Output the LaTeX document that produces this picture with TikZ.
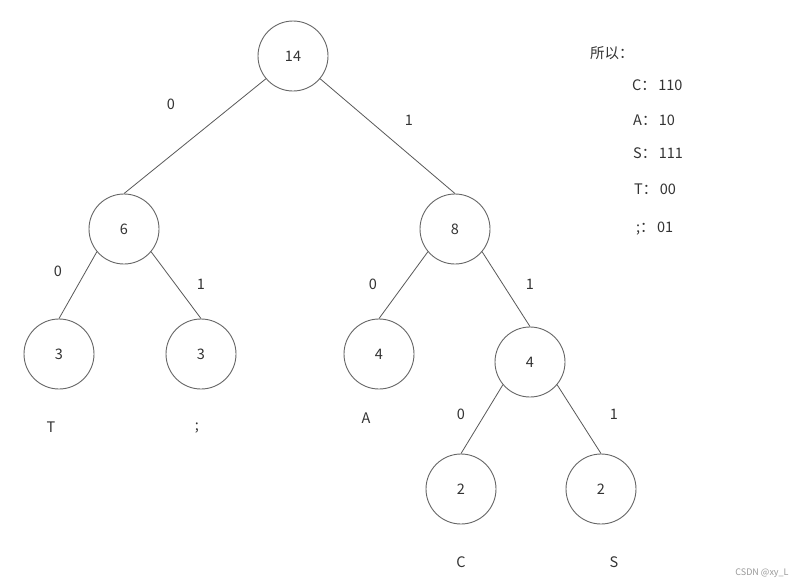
\documentclass[tikz,border=0pt]{standalone}
\usepackage{fontspec}
\setmainfont{Noto Sans CJK SC}
\begin{document}
\begin{tikzpicture}[x=1pt,y=-1pt,
  every node/.style={text=black!80, font=\fontsize{14.5}{17}\selectfont},
  hnode/.style={circle, draw=black!60, line width=0.9pt, minimum size=70pt, inner sep=0pt},
  edge/.style={draw=black!65, line width=0.8pt},
  lbl/.style={inner sep=0pt},
  wm/.style={text=black!40, font=\fontsize{9}{10}\selectfont, inner sep=0pt}]
\useasboundingbox[fill=white] (0,0) rectangle (805,587);
% nodes
\node[hnode] (n14) at (293,56) {14};
\node[hnode] (n6) at (124,229) {6};
\node[hnode] (n8) at (455,229) {8};
\node[hnode] (t3) at (59,354) {3};
\node[hnode] (s3) at (201,354) {3};
\node[hnode] (a4) at (379,354) {4};
\node[hnode] (n4) at (530,362) {4};
\node[hnode] (c2) at (461,489) {2};
\node[hnode] (s2) at (601,489) {2};
% edges
\draw[edge] (n14.220) -- (n6.north);
\draw[edge] (n14.320) -- (n8.north);
\draw[edge] (n6.220) -- (t3.north);
\draw[edge] (n6.320) -- (s3.north);
\draw[edge] (n8.220) -- (a4.north);
\draw[edge] (n8.320) -- (n4.north);
\draw[edge] (n4.220) -- (c2.north);
\draw[edge] (n4.320) -- (s2.north);
% edge labels
\node[lbl] (e1) at (171,104) {0};
\node[lbl] (e2) at (409,120) {1};
\node[lbl] (e3) at (58,271) {0};
\node[lbl] (e4) at (201,284) {1};
\node[lbl] (e5) at (373,284) {0};
\node[lbl] (e6) at (530,284) {1};
\node[lbl] (e7) at (461,414) {0};
\node[lbl] (e8) at (614,414) {1};
% leaf letters
\node[lbl] (lT) at (51,427) {T};
\node[lbl] (lS) at (197,428) {;};
\node[lbl] (lA) at (366,418) {A};
\node[lbl] (lC) at (461,562) {C};
\node[lbl] (lSS) at (614,562) {S};
% codes
\node[lbl, anchor=west] (h) at (590,53) {所以：};
\node[lbl, anchor=west] (cC) at (632,85) {C：\,110};
\node[lbl, anchor=west] (cA) at (633,120) {A：\,10};
\node[lbl, anchor=west] (cS) at (633,153) {S：\,111};
\node[lbl, anchor=west] (cT) at (634,189) {T：\,00};
\node[lbl, anchor=west] (cSe) at (636,229) {;：\,01};
% watermark
\node[wm] (w) at (762,573) {CSDN @xy\_L};
\end{tikzpicture}
\end{document}
